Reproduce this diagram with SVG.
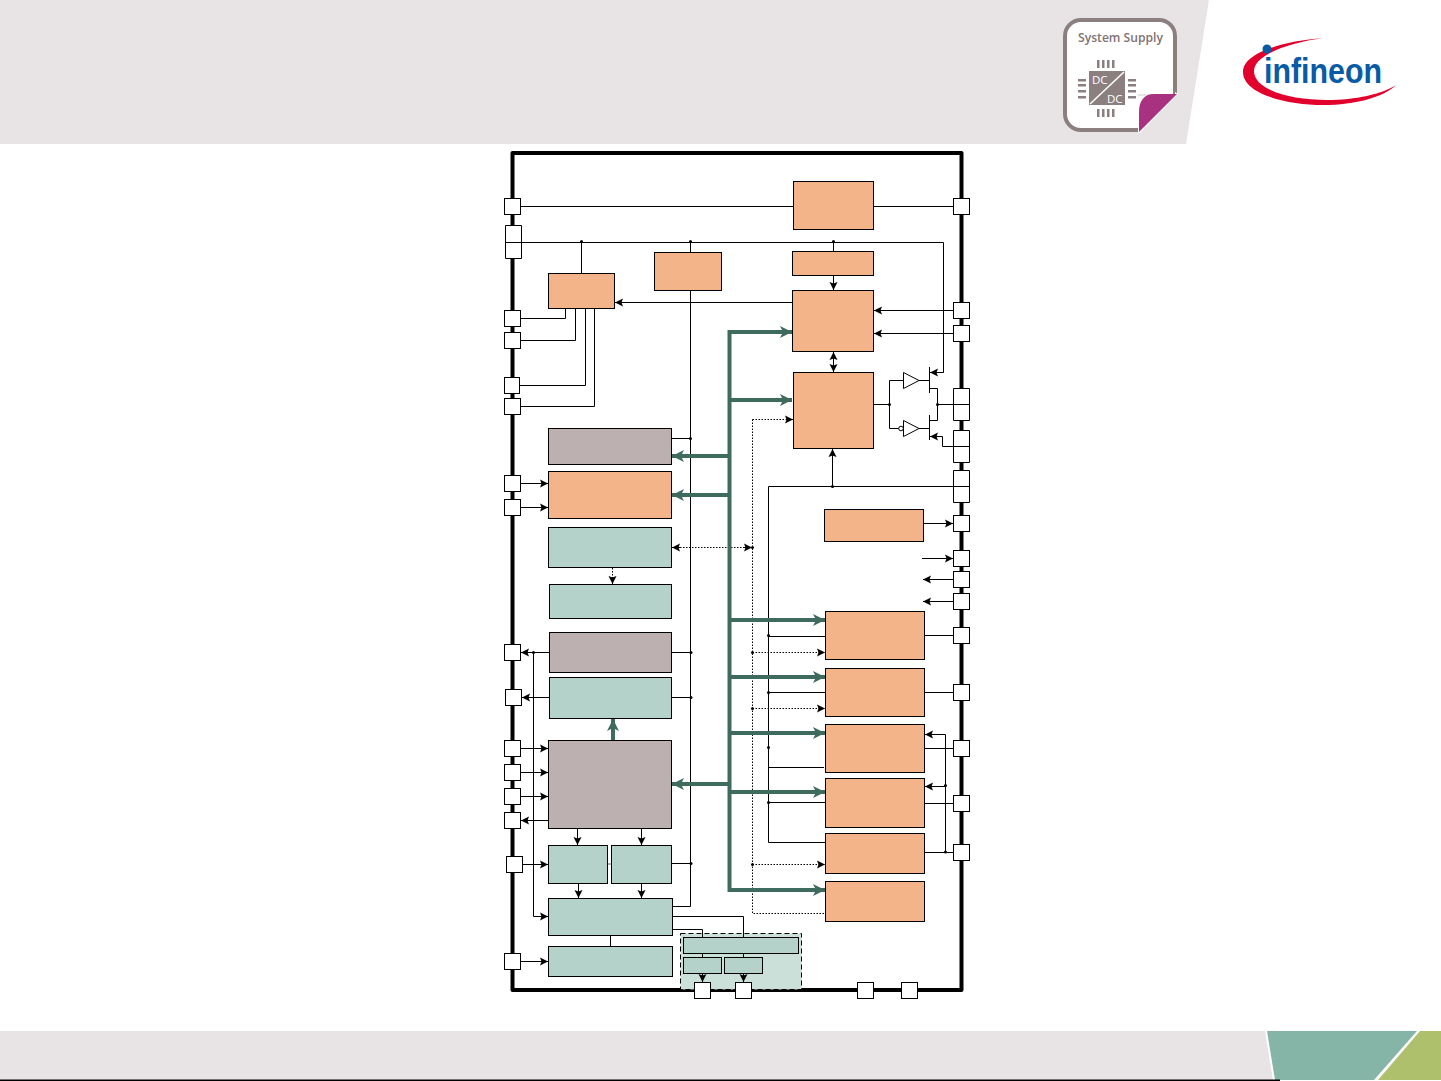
<svg xmlns="http://www.w3.org/2000/svg" width="1441" height="1081" viewBox="0 0 1441 1081">
<style>
.o{fill:#f4b48a;stroke:#000;stroke-width:1}
.g{fill:#bcb0b1;stroke:#000;stroke-width:1}
.t{fill:#b5d2ca;stroke:#000;stroke-width:1}
.p{fill:#fff;stroke:#000;stroke-width:1}
.l{fill:none;stroke:#000;stroke-width:1}
.a{marker-end:url(#ar)}
.d{stroke-dasharray:1.5 1.5}
.b{fill:none;stroke:#3f6b5e;stroke-width:4}
.ga{marker-end:url(#gr)}
.dot{fill:#000}
.ic{fill:#8c7f80}
</style>
<defs>
<marker id="ar" markerUnits="userSpaceOnUse" markerWidth="9" markerHeight="9" refX="8" refY="4.500" orient="auto"><path d="M0 .5L8 4.500L0 8.500L1.500 4.500Z" fill="#000"/></marker>
<marker id="gr" markerUnits="userSpaceOnUse" markerWidth="13" markerHeight="13" refX="12" refY="6.500" orient="auto"><path d="M0 .5L12 6.500L0 12.500L3 6.500Z" fill="#3f6b5e"/></marker>
</defs>

<g id="header">
<path d="M0 0H1209L1186 144H0Z" fill="#e8e4e5"/>
</g>
<g id="footer">
<path d="M0 1031H1265L1273 1080H0Z" fill="#e8e4e5"/>
<path d="M1267 1031H1417L1374 1080H1275Z" fill="#85b5a7"/>
<path d="M1420 1031H1441V1080H1378Z" fill="#aec06c"/>
<rect x="0" y="1079.500" width="1280" height="1.500" fill="#000"/>
</g>
<g id="badge">
<rect x="1065" y="20" width="110" height="110" rx="16" fill="#fff" stroke="#8c7f80" stroke-width="4"/>
<path d="M1178 94V134H1138V94Z" fill="#e8e4e5"/>
<path d="M1138 132V96H1173V94H1175V92L1178 94L1140 133Z" fill="#fff"/>
<path d="M1177 94L1139 132V112C1139 101 1144 94 1154 94Z" fill="#a8327f"/>
<text x="1120.500" y="42" font-family="'Open Sans','Noto Sans',sans-serif" font-size="12.500" font-weight="600" fill="#7f7374" text-anchor="middle" textLength="85" lengthAdjust="spacingAndGlyphs">System Supply</text>
<path class="ic" d="M1089 71H1125V105H1089Z"/>
<path d="M1124 72L1090 104" stroke="#fff" stroke-width="1.500"/>
<text x="1092" y="84" font-family="'Open Sans',sans-serif" font-size="11.500" fill="#fff">DC</text>
<text x="1107" y="103" font-family="'Open Sans',sans-serif" font-size="11.500" fill="#fff">DC</text>
<path class="ic" d="M1097 60h2.500v8h-2.500zM1102 60h2.500v8h-2.500zM1107 60h2.500v8h-2.500zM1112 60h2.500v8h-2.500zM1097 109h2.500v8h-2.500zM1102 109h2.500v8h-2.500zM1107 109h2.500v8h-2.500zM1112 109h2.500v8h-2.500zM1078 79h8v2.500h-8zM1078 84h8v2.500h-8zM1078 90h8v2.500h-8zM1078 96h8v2.500h-8zM1128 79h8v2.500h-8zM1128 84h8v2.500h-8zM1128 90h8v2.500h-8zM1128 96h8v2.500h-8z"/>
</g>
<g id="logo">
<path d="M1323 38C1285 41 1243 52 1243 72C1243 94 1287 105 1323 105C1356 105 1384 97 1396 85C1382 94 1356 100 1327 100C1291 100 1254 90 1254 71C1254 55 1288 43 1323 38Z" fill="#e2002c"/>
<text x="1264" y="83" font-family="'Liberation Sans',sans-serif" font-size="35" font-weight="700" fill="#0a5ba5" textLength="118" lengthAdjust="spacingAndGlyphs">infineon</text>
<circle cx="1267" cy="49" r="4.500" fill="#0a5ba5"/>
</g>

<g id="chip-border"><rect x="512.500" y="153" width="449" height="837" fill="none" stroke="#000" stroke-width="4" stroke-linejoin="round"/></g>

<g id="peripheral-area"><rect x="680.500" y="933.500" width="121" height="56" fill="#cbe0d9" stroke="#000" stroke-width="1" stroke-dasharray="5 3"/></g>

<g id="connectors">
<path class="l" d="M521 206.500H793M874 206.500H953"/>
<path class="l" d="M505 242.500H943.500V372.500H931"/>
<path class="l a" d="M943.500 372.500H930"/>
<path class="l" d="M581.500 242.500V273M690.500 242.500V252M833.500 242.500V251"/>
<path class="l a" d="M833.500 276V290"/>
<path class="l a" d="M833.500 362V352"/>
<path class="l a" d="M833.500 362V372"/>
<path class="l a" d="M792 302.500H615"/>
<path class="l" d="M690.500 291V906.500H672M672 438.500H690.500M672 652.500H690.500M672 697.500H690.500M672 863.500H690.500"/>
<path class="l" d="M520 318.500H565.500V309M520 340.500H575.500V309M520 385.500H585.500V309M520 406.500H594.500V309"/>
<path class="l a" d="M953 310.500H874"/>
<path class="l a" d="M953 333.500H874"/>
<path class="l" d="M874 404.500H889.500M889.500 380.500V428.500M889.500 380.500H903M889.500 428.500H899M919 380.500H929M919 428.500H929"/>
<path class="l" d="M929.500 367V393M929.500 415V440M929.500 388.500H937.500V420.500H929.500M937.500 404.500H969"/>
<path class="l" d="M942.500 436.500V446.500H969"/>
<path class="l a" d="M942.500 436.500H930"/>
<path class="l a" d="M832.500 486.500V449"/>
<path class="l" d="M969 486.500H768.500V842.500H825M768.500 636.500H825M768.500 692.500H825M768.500 767.500H824M768.500 802.500H825"/>
<path class="l a" d="M521 483.500H548"/>
<path class="l a" d="M521 507.500H548"/>
<path class="l d" d="M752.500 419.500V913.500H825"/>
<path class="l d a" d="M752.500 419.500H793"/>
<path class="l d" d="M680 547.500H744"/>
<path class="l a" d="M680 547.500H672"/>
<path class="l a" d="M744 547.500H752"/>
<path class="l d a" d="M752.500 652.500H825"/>
<path class="l d a" d="M752.500 708.500H825"/>
<path class="l d a" d="M752.500 864.500H825"/>
<path class="l d a" d="M612.500 568V584"/>
<path class="l a" d="M924 523.500H953"/>
<path class="l a" d="M922 558.500H953"/>
<path class="l a" d="M953 579.500H923"/>
<path class="l a" d="M953 601.500H923"/>
<path class="l" d="M925 635.500H953M925 692.500H953M925 748.500H953M925 803.500H953M925 852.500H953"/>
<path class="l a" d="M945.500 852.500V734.500H925"/>
<path class="l a" d="M945.500 786.500H925"/>
<path class="l a" d="M549 652.500H521"/>
<path class="l a" d="M533.500 652.500V916.500H548"/>
<path class="l a" d="M549 697.500H522"/>
<path class="l a" d="M521 748.500H548"/>
<path class="l a" d="M521 772.500H548"/>
<path class="l a" d="M521 796.500H548"/>
<path class="l a" d="M548 820.500H521"/>
<path class="l a" d="M577.500 829V845"/>
<path class="l a" d="M641.500 829V845"/>
<path class="l a" d="M578.500 884V898"/>
<path class="l a" d="M641.500 884V898"/>
<path class="l a" d="M522 864.500H548"/>
<path class="l a" d="M521 961.500H548"/>
<path class="l" d="M610.500 936V946M672 916.500H743.500V937M672 929.500H702.500V937M702.500 953V957M743.500 953V957"/>
<path class="l a" d="M702.500 973V982"/>
<path class="l a" d="M743.500 973V982"/>
<path d="M608 864H611" stroke="#999" stroke-width="1.500"/>
<path class="b" d="M792 332H729.500V890H825"/>
<path class="b ga" d="M729 332H792"/>
<path class="b ga" d="M729 400H792"/>
<path class="b ga" d="M729 456H672"/>
<path class="b ga" d="M729 495H672"/>
<path class="b ga" d="M729 620H825"/>
<path class="b ga" d="M729 677H825"/>
<path class="b ga" d="M729 733H825"/>
<path class="b ga" d="M729 792H825"/>
<path class="b ga" d="M729 890H825"/>
<path class="b ga" d="M729 784H672"/>
<path class="b ga" d="M613 740V719"/>
<g class="dot">
<circle cx="581.500" cy="241.500" r="1.500"/><circle cx="690.500" cy="241.500" r="1.500"/><circle cx="833.500" cy="241.500" r="1.500"/>
<circle cx="690.500" cy="438.500" r="1.500"/><circle cx="691" cy="652.500" r="1.500"/><circle cx="691" cy="697.500" r="1.500"/><circle cx="691" cy="863.500" r="1.500"/>
<circle cx="889.500" cy="404.500" r="1.500"/><circle cx="937.500" cy="404.500" r="1.500"/><circle cx="832.500" cy="486.500" r="1.500"/>
<circle cx="752.500" cy="547.500" r="1.500"/><circle cx="752.500" cy="652.500" r="1.500"/><circle cx="752.500" cy="708.500" r="1.500"/><circle cx="752.500" cy="864.500" r="1.500"/>
<circle cx="768.500" cy="635.500" r="1.500"/><circle cx="768.500" cy="692.500" r="1.500"/><circle cx="768.500" cy="747.500" r="1.500"/><circle cx="768.500" cy="802.500" r="1.500"/>
<circle cx="945.500" cy="785.500" r="1.500"/><circle cx="945.500" cy="852" r="1.500"/><circle cx="533.500" cy="652.500" r="1.500"/>
</g>
</g>

<g id="driver-upper"><path d="M903.500 372.500V388.500L919 380.500Z" fill="#fff" stroke="#000"/></g>
<g id="driver-lower"><path d="M903.500 420.500V436.500L919 428.500Z" fill="#fff" stroke="#000"/><circle cx="901" cy="428.500" r="2.300" fill="#fff" stroke="#000"/></g>

<g id="n1"><rect class="o" x="793.500" y="181.500" width="80" height="48"/></g>
<g id="n2"><rect class="o" x="792.500" y="251.500" width="81" height="24"/></g>
<g id="n3"><rect class="o" x="792.500" y="290.500" width="81" height="61"/></g>
<g id="n4"><rect class="o" x="793.500" y="372.500" width="80" height="76"/></g>
<g id="n5"><rect class="o" x="548.500" y="273.500" width="66" height="35"/></g>
<g id="n6"><rect class="o" x="654.500" y="252.500" width="67" height="38"/></g>
<g id="n7"><rect class="g" x="548.500" y="428.500" width="123" height="36"/></g>
<g id="n8"><rect class="o" x="548.500" y="471.500" width="123" height="47"/></g>
<g id="n9"><rect class="t" x="548.500" y="527.500" width="123" height="40"/></g>
<g id="n10"><rect class="t" x="549.500" y="584.500" width="122" height="34"/></g>
<g id="n11"><rect class="g" x="549.500" y="632.500" width="122" height="40"/></g>
<g id="n12"><rect class="t" x="549.500" y="677.500" width="122" height="41"/></g>
<g id="n13"><rect class="g" x="548.500" y="740.500" width="123" height="88"/></g>
<g id="n14"><rect class="t" x="548.500" y="845.500" width="59" height="38"/></g>
<g id="n15"><rect class="t" x="611.500" y="845.500" width="60" height="38"/></g>
<g id="n16"><rect class="t" x="548.500" y="898.500" width="124" height="37"/></g>
<g id="n17"><rect class="t" x="548.500" y="946.500" width="124" height="30"/></g>
<g id="n18"><rect class="t" x="683.500" y="937.500" width="115" height="16"/></g>
<g id="n19"><rect class="t" x="683.500" y="957.500" width="38" height="16"/></g>
<g id="n20"><rect class="t" x="724.500" y="957.500" width="38" height="16"/></g>
<g id="n21"><rect class="o" x="824.500" y="509.500" width="99" height="32"/></g>
<g id="n22"><rect class="o" x="825.500" y="611.500" width="99" height="48"/></g>
<g id="n23"><rect class="o" x="825.500" y="668.500" width="99" height="48"/></g>
<g id="n24"><rect class="o" x="825.500" y="724.500" width="99" height="48"/></g>
<g id="n25"><rect class="o" x="825.500" y="778.500" width="99" height="49"/></g>
<g id="n26"><rect class="o" x="825.500" y="833.500" width="99" height="40"/></g>
<g id="n27"><rect class="o" x="825.500" y="881.500" width="99" height="40"/></g>

<g id="pins">
<rect class="p" x="504.500" y="198.500" width="16" height="16"/>
<path class="p" d="M505.500 225.500H521.500V258.500H505.500ZM505.500 242.500H521.500"/>
<rect class="p" x="504.500" y="310.500" width="16" height="16"/>
<rect class="p" x="504.500" y="332.500" width="16" height="16"/>
<rect class="p" x="504.500" y="377.500" width="15" height="16"/>
<rect class="p" x="504.500" y="398.500" width="16" height="16"/>
<rect class="p" x="504.500" y="475.500" width="16" height="16"/>
<rect class="p" x="504.500" y="499.500" width="16" height="16"/>
<rect class="p" x="504.500" y="644.500" width="16" height="16"/>
<rect class="p" x="505.500" y="689.500" width="16" height="16"/>
<rect class="p" x="504.500" y="740.500" width="16" height="16"/>
<rect class="p" x="504.500" y="764.500" width="16" height="16"/>
<rect class="p" x="504.500" y="788.500" width="16" height="16"/>
<rect class="p" x="504.500" y="812.500" width="16" height="16"/>
<rect class="p" x="506.500" y="856.500" width="16" height="16"/>
<rect class="p" x="504.500" y="953.500" width="16" height="16"/>
<rect class="p" x="953.500" y="198.500" width="16" height="16"/>
<rect class="p" x="953.500" y="302.500" width="16" height="16"/>
<rect class="p" x="953.500" y="325.500" width="16" height="16"/>
<path class="p" d="M953.500 388.500H969.500V420.500H953.500ZM953.500 404.500H969.500"/>
<path class="p" d="M953.500 430.500H969.500V462.500H953.500ZM953.500 446.500H969.500"/>
<path class="p" d="M953.500 470.500H969.500V502.500H953.500ZM953.500 486.500H969.500"/>
<rect class="p" x="953.500" y="515.500" width="16" height="16"/>
<rect class="p" x="953.500" y="550.500" width="16" height="16"/>
<rect class="p" x="953.500" y="571.500" width="16" height="16"/>
<rect class="p" x="953.500" y="593.500" width="16" height="16"/>
<rect class="p" x="953.500" y="627.500" width="16" height="16"/>
<rect class="p" x="953.500" y="684.500" width="16" height="16"/>
<rect class="p" x="953.500" y="740.500" width="16" height="16"/>
<rect class="p" x="953.500" y="795.500" width="16" height="16"/>
<rect class="p" x="953.500" y="844.500" width="16" height="16"/>
<rect class="p" x="694.500" y="982.500" width="16" height="16"/>
<rect class="p" x="735.500" y="982.500" width="16" height="16"/>
<rect class="p" x="857.500" y="982.500" width="16" height="16"/>
<rect class="p" x="901.500" y="982.500" width="16" height="16"/>
</g>
</svg>
